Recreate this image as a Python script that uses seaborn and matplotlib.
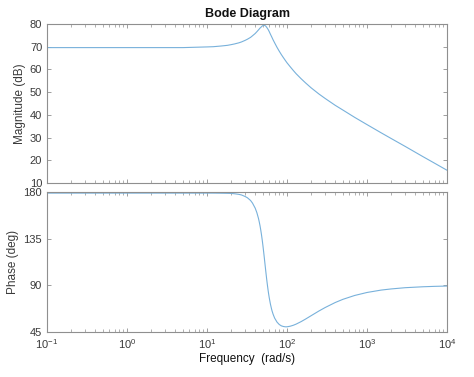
import numpy as np
import pandas as pd
import matplotlib
matplotlib.use('Agg')
import matplotlib.pyplot as plt
import seaborn as sns

# values
freq = [0.1, 0.3, 1, 3, 5, 10, 12, 15, 18, 20, 22, 25, 27, 30, 32, 35, 37, 40, 42,
        44, 45, 46, 47, 48, 49, 50, 51, 52, 53, 54, 55, 56, 57, 58, 59, 60, 62,
        64, 65, 67, 70, 75, 80, 85, 90, 95, 100, 110, 120, 130, 150, 170, 200,
        250, 300, 400, 500, 700, 1000, 1500, 2000, 3000, 5000, 7000, 10000]
mag_db = [69.6, 69.6, 69.6, 69.6, 69.6, 69.9, 70.0, 70.3, 70.6, 70.9, 71.2, 71.7,
          72.1, 72.8, 73.3, 74.1, 74.8, 75.8, 76.6, 77.4, 77.8, 78.2, 78.5, 78.8,
          79.1, 79.3, 79.4, 79.4, 79.3, 79.1, 78.8, 78.4, 78.0, 77.6, 77.1, 76.6,
          75.5, 74.5, 74.0, 73.0, 71.7, 69.7, 68.0, 66.5, 65.2, 64.0, 62.9, 61.1,
          59.5, 58.1, 55.9, 54.1, 51.9, 49.2, 47.2, 44.2, 42.1, 38.9, 35.7, 32.1,
          29.6, 26.1, 21.6, 18.7, 15.6]
phase_deg = [178.9, 178.9, 178.9, 178.9, 178.9, 178.9, 178.9, 178.8, 178.7, 178.6,
             178.3, 177.7, 177.1, 175.6, 174.4, 171.8, 169.3, 164.4, 160.0, 154.4,
             151.0, 147.3, 143.1, 138.5, 133.5, 128.1, 122.4, 116.6, 110.7, 105.0,
             99.5, 94.3, 89.6, 85.2, 81.3, 77.8, 71.9, 67.3, 65.3, 62.1, 58.4, 54.5,
             52.2, 50.9, 50.3, 50.0, 50.0, 50.6, 51.5, 52.6, 55.0, 57.4, 60.7, 65.2,
             68.6, 73.4, 76.5, 80.2, 83.1, 85.4, 86.5, 87.7, 88.6, 89.0, 89.3]

df = pd.DataFrame({'freq': freq, 'mag': mag_db, 'phase': phase_deg})

sns.set_style('ticks')
plt.rcParams['font.family'] = ['Liberation Sans', 'DejaVu Sans']

line_c = '#78b1db'
axis_c = '#8f8f8f'
text_c = '#3a3a3a'

fig = plt.figure(figsize=(4.74, 3.77), dpi=100)
ax1 = fig.add_axes([0.0992, 0.5146, 0.8439, 0.4218])
ax2 = fig.add_axes([0.0992, 0.1194, 0.8439, 0.3714])

sns.lineplot(data=df, x='freq', y='mag', ax=ax1, color=line_c, lw=0.8,
             estimator=None, sort=True)
sns.lineplot(data=df, x='freq', y='phase', ax=ax2, color=line_c, lw=0.8,
             estimator=None, sort=True)

for ax in (ax1, ax2):
    ax.set_xscale('log')
    ax.set_xlim(0.1, 1e4)
    ax.tick_params(which='both', direction='in', top=True, right=True,
                   color=axis_c, labelcolor=text_c, labelsize=8)
    ax.tick_params(which='major', length=3, width=0.6)
    ax.tick_params(which='minor', length=2, width=0.5)
    for s in ax.spines.values():
        s.set_color(axis_c)
        s.set_linewidth(0.8)

ax1.set_ylim(10, 80)
ax1.set_yticks([10, 20, 30, 40, 50, 60, 70, 80])
ax1.tick_params(axis='x', which='both', labelbottom=False)
ax1.set_xlabel('')
ax1.set_ylabel('Magnitude (dB)', fontsize=8.5, color=text_c, labelpad=3)
ax1.set_title('Bode Diagram', fontsize=9, fontweight='bold', color='#111111', pad=5)

ax2.set_ylim(45, 180)
ax2.set_yticks([45, 90, 135, 180])
ax2.set_xticks([0.1, 1, 10, 100, 1000, 10000])
ax2.set_ylabel('Phase (deg)', fontsize=8.5, color=text_c, labelpad=3)
ax2.set_xlabel('Frequency  (rad/s)', fontsize=8.5, color='#111111', labelpad=2)

fig.savefig('out.png', dpi=100, facecolor='white')
